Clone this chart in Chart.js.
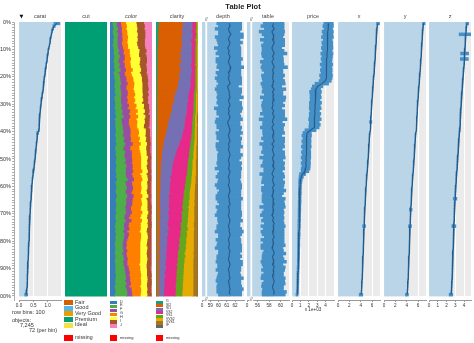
<!DOCTYPE html>
<html><head><meta charset="utf-8">
<script src="https://cdn.jsdelivr.net/npm/chart.js@4.4.1/dist/chart.umd.min.js"></script>
<style>
html,body{margin:0;padding:0;background:#fff;width:474px;height:343px;overflow:hidden;font-family:"Liberation Sans",Arial,sans-serif;}
canvas{position:absolute;}
.t{position:absolute;white-space:nowrap;color:#333;line-height:1;}
.sq{position:absolute;}
</style></head><body>
<script>
// ---------------- DATA ----------------
const columnNames = ['carat','cut','color','clarity','depth','table','price','x','y','z'];
const binCount = 100;
const yTickLabels = ['0%','10%','20%','30%','40%','50%','60%','70%','80%','90%','100%'];

const caratMean = [
1.32,1.22,1.18,1.15,1.13,1.11,1.09,1.08,1.06,1.04,
1.02,1.01,0.99,0.98,0.97,0.95,0.94,0.92,0.91,0.90,
0.88,0.87,0.86,0.85,0.84,0.83,0.81,0.80,0.78,0.77,
0.76,0.75,0.74,0.73,0.72,0.71,0.71,0.70,0.70,0.69,
0.65,0.64,0.63,0.62,0.61,0.60,0.59,0.58,0.57,0.56,
0.55,0.54,0.53,0.52,0.50,0.49,0.48,0.47,0.46,0.45,
0.44,0.44,0.43,0.42,0.42,0.41,0.40,0.40,0.39,0.39,
0.38,0.38,0.37,0.37,0.36,0.36,0.36,0.35,0.35,0.35,
0.34,0.34,0.33,0.33,0.33,0.32,0.32,0.31,0.31,0.31,
0.30,0.30,0.29,0.29,0.29,0.28,0.28,0.27,0.26,0.25];
const caratSd = [
0.10,0.04,0.02,0.01,0.01,0.01,0.01,0.01,0.01,0.01,
0.01,0.01,0.01,0.01,0.01,0.01,0.01,0.01,0.01,0.01,
0.01,0.01,0.01,0.01,0.01,0.01,0.01,0.01,0.01,0.01,
0.01,0.01,0.01,0.01,0.01,0.01,0.01,0.01,0.01,0.02,
0.03,0.01,0.01,0.01,0.01,0.01,0.01,0.01,0.01,0.01,
0.01,0.01,0.01,0.01,0.02,0.01,0.01,0.01,0.01,0.01,
0.01,0.01,0.01,0.01,0.01,0.01,0.01,0.01,0.01,0.01,
0.01,0.01,0.01,0.01,0.01,0.01,0.01,0.01,0.01,0.01,
0.01,0.01,0.01,0.01,0.01,0.01,0.01,0.01,0.01,0.01,
0.01,0.01,0.01,0.01,0.01,0.01,0.01,0.01,0.02,0.05];

const cutPremium = [
72,72,72,72,72,72,72,72,72,72, 72,72,72,72,72,72,72,72,72,72,
72,72,72,72,72,72,72,72,72,72, 72,72,72,72,72,72,72,72,72,72,
72,72,72,72,72,72,72,72,72,72, 72,72,72,72,72,72,72,72,72,72,
72,72,72,72,72,72,72,72,72,72, 72,72,72,72,72,72,72,72,72,72,
72,72,72,72,72,72,72,72,72,72, 72,72,72,72,72,72,72,72,72,72];

const colorD = [
5,6,7,5,6,8,6,7,5,7, 8,7,9,8,7,9,8,10,7,9, 9,11,10,9,11,10,12,9,10,11, 11,10,12,11,13,10,12,11,12,13,
12,11,13,12,14,12,11,13,12,14, 13,12,14,13,12,14,13,15,12,13, 14,12,13,15,13,12,14,13,12,14,
12,11,13,12,10,12,11,13,11,12, 11,10,12,11,10,12,11,10,12,11, 12,11,13,12,11,12,10,11,12,10];
const colorE = [
10,9,11,10,12,9,11,10,12,11, 12,11,13,12,11,13,12,14,12,13, 14,13,15,14,13,15,14,16,15,14, 16,15,17,16,18,16,15,17,18,17,
19,18,20,19,21,20,19,22,21,20, 23,22,24,23,25,22,24,26,23,24, 25,24,23,25,24,26,23,22,24,23,
22,21,23,20,22,21,19,20,21,19, 18,19,17,20,18,19,21,20,19,22, 22,24,23,25,24,26,25,27,28,30];
const colorF = [
10,11,9,12,10,11,12,10,11,12, 12,13,12,14,13,12,14,13,15,13, 15,14,16,15,14,16,15,14,16,15, 17,16,18,17,16,18,17,16,17,18,
17,18,16,17,18,16,17,16,18,17, 16,17,15,16,17,15,16,15,16,15, 15,16,14,15,16,14,15,14,13,14,
13,12,14,12,11,12,10,11,10,9, 9,10,8,9,10,8,9,10,9,10, 10,11,9,10,12,11,10,12,11,12];
const colorG = [
12,13,11,13,12,14,12,13,14,12, 14,15,13,15,16,14,15,16,15,16, 16,17,16,18,17,16,18,17,18,17, 18,19,18,17,19,18,20,19,18,19,
20,19,21,20,19,21,22,20,21,22, 21,22,20,21,22,20,21,20,22,21, 20,21,22,21,20,22,23,24,23,25,
26,27,25,28,29,27,30,29,31,32, 33,32,34,31,33,32,30,31,29,28, 27,26,28,25,26,24,26,23,22,20];
const colorH = [
25,24,26,23,25,22,24,23,22,24, 23,22,21,22,23,21,22,20,21,22, 21,20,19,20,21,19,18,20,19,18, 18,19,17,18,17,19,18,17,16,17,
16,17,15,16,15,17,16,15,14,16, 14,15,13,14,13,15,14,13,14,15, 14,13,15,14,13,14,13,15,16,14,
15,16,14,16,17,15,16,15,16,16, 16,15,17,16,15,16,17,16,17,15, 16,15,14,16,15,14,16,15,14,16];
const colorI = [
18,19,17,20,18,19,17,19,18,17, 17,16,18,16,17,16,15,14,16,15, 14,15,13,14,15,13,14,13,12,14, 12,13,11,12,11,12,11,13,12,10,
10,11,10,11,9,10,10,9,10,8, 9,8,10,9,8,10,9,8,9,8, 8,10,9,7,10,8,9,10,9,8,
9,10,8,10,9,10,11,9,8,9, 10,11,9,10,11,10,9,10,11,10, 9,10,11,9,10,11,10,9,10,10];
const colorJ = [
20,18,19,17,17,17,18,18,18,17, 14,16,14,13,13,15,14,13,14,12, 11,10,11,10,9,11,9,11,10,11, 8,8,7,9,6,7,7,7,9,6,
6,6,5,5,4,5,5,5,4,3, 4,4,4,4,3,4,3,3,4,4, 4,4,4,3,4,4,3,2,3,2,
3,3,3,2,2,3,3,3,3,3, 3,3,3,3,3,3,3,3,3,4, 4,3,2,3,2,2,3,3,3,2];

const clarI1 = [
6,5,4,5,3,4,5,3,4,3, 3,2,3,2,3,2,2,3,2,2, 2,2,1,2,2,1,2,1,2,1, 1,2,1,1,2,1,1,1,2,1,
1,1,1,0,1,1,1,0,1,1, 1,0,1,1,0,1,0,1,1,0, 1,0,0,1,0,1,0,0,1,0,
0,1,0,0,1,0,0,1,0,0, 0,0,1,0,0,1,0,0,0,1, 0,0,1,0,0,0,1,0,0,1];
const clarSI2 = [
56,58,57,55,59,56,54,58,57,55, 56,54,55,53,56,52,54,55,51,53, 52,50,51,48,47,44,42,40,41,38, 36,34,35,32,30,29,27,26,24,23,
21,20,18,17,16,14,13,13,12,11, 11,10,10,9,10,9,8,9,8,9, 8,9,8,7,8,7,8,7,8,7,
7,8,7,6,7,8,6,7,7,6, 7,6,7,6,5,7,6,6,5,6, 6,5,6,5,6,5,5,6,5,5];
const clarSI1 = [
24,22,25,23,24,26,23,22,24,25, 25,27,26,28,25,29,27,26,30,28, 28,29,30,31,30,33,32,34,33,35, 35,36,35,38,37,38,40,39,41,40,
40,39,40,38,37,35,34,33,31,30, 29,28,27,26,26,25,24,24,23,23, 23,22,23,21,22,22,21,22,21,20,
22,20,21,20,19,21,19,20,18,19, 19,18,17,18,17,16,17,16,15,16, 15,14,15,14,13,14,13,12,13,12];
const clarVS2 = [
8,9,7,10,8,7,9,10,8,9, 8,9,8,9,8,9,10,8,9,9, 10,11,10,11,12,12,13,14,13,14, 15,14,16,15,17,18,17,19,18,20,
21,22,23,25,26,28,29,30,32,33, 33,35,34,36,35,36,37,35,36,34, 35,34,33,35,33,32,33,31,32,31,
31,30,32,31,30,29,31,29,30,28, 29,28,29,27,28,27,26,28,27,26, 27,28,26,27,28,27,26,28,27,27];
const clarVS1 = [
3,3,4,3,3,4,4,3,3,4, 4,4,4,4,4,4,3,4,4,4, 4,4,4,4,5,5,5,5,5,6, 6,6,6,6,6,6,7,7,7,7,
7,8,8,9,9,9,10,10,10,11, 11,11,12,12,12,12,13,13,13,14, 13,14,14,14,15,14,15,15,14,16,
15,15,14,16,15,16,15,16,16,17, 16,17,16,17,16,17,17,16,17,16, 16,17,16,17,16,16,17,16,16,16];
const clarVVS2 = [
2,2,2,3,2,2,3,2,3,3, 3,3,3,3,3,3,3,3,3,3, 3,3,3,3,3,3,4,4,4,4, 4,4,4,4,4,4,4,5,4,5,
5,5,5,6,6,6,6,7,7,7, 8,8,8,8,9,9,9,10,10,10, 11,11,12,12,12,13,13,14,13,14,
14,15,15,15,16,15,17,16,17,18, 18,19,19,20,21,20,21,21,22,22, 23,23,24,24,24,25,25,25,26,26];
const clarVVS1 = [
1,1,1,1,1,1,2,2,1,1, 1,1,1,1,1,2,1,1,1,1, 1,1,1,1,1,2,2,2,2,2, 2,2,2,3,3,3,3,2,3,3,
3,3,3,3,3,4,4,4,4,4, 5,5,5,5,5,5,6,5,6,6, 6,7,7,7,7,8,7,8,8,8,
8,8,8,9,9,8,9,9,9,9, 9,9,9,9,10,9,10,10,10,10, 10,10,10,10,10,10,10,10,10,10];
const clarIF = [
0,0,0,0,0,0,0,0,0,0, 0,0,0,0,0,0,0,0,0,0, 0,0,0,0,0,0,0,0,0,0, 0,0,0,0,1,1,1,1,1,1,
1,1,1,1,1,1,1,1,1,1, 1,1,1,1,1,1,1,2,1,2, 2,2,2,2,2,2,2,2,2,2,
2,2,2,2,2,2,2,2,2,2, 2,2,2,2,2,2,2,2,2,2, 2,2,2,2,2,2,2,2,2,2];

const depthMean = [
61.3,61.4,61.2,61.3,61.5,61.3,61.2,61.4,61.3,61.1, 61.3,61.2,61.4,61.3,61.2,61.3,61.5,61.4,61.2,61.3,
61.2,61.3,61.4,61.1,61.2,61.3,61.3,61.4,61.2,61.3, 61.4,61.2,61.3,61.2,61.4,61.3,61.1,61.2,61.3,61.4,
61.3,61.2,61.3,61.4,61.2,61.3,61.2,61.3,61.4,61.3, 61.2,61.3,61.3,61.2,61.4,61.3,61.2,61.3,61.3,61.2,
61.3,61.4,61.3,61.2,61.3,61.3,61.4,61.2,61.3,61.3, 61.2,61.3,61.4,61.3,61.2,61.3,61.3,61.4,61.3,61.2,
61.3,61.3,61.2,61.4,61.3,61.3,61.2,61.3,61.4,61.3, 61.2,61.3,61.3,61.4,61.2,61.3,61.3,61.4,61.3,61.4];
const depthSd = [
1.5,1.4,1.6,1.3,1.5,1.7,1.4,1.5,1.3,1.6, 1.4,1.5,1.3,1.6,1.5,1.4,1.7,1.3,1.5,1.4,
1.6,1.5,1.4,1.3,1.6,1.5,1.4,1.6,1.3,1.5, 1.4,1.7,1.5,1.4,1.3,1.6,1.5,1.4,1.5,1.3,
1.6,1.4,1.5,1.3,1.5,1.6,1.4,1.3,1.5,1.4, 1.3,1.5,1.4,1.6,1.3,1.4,1.5,1.3,1.4,1.6,
1.5,1.3,1.4,1.5,1.6,1.4,1.3,1.5,1.4,1.5, 1.6,1.4,1.5,1.3,1.4,1.5,1.7,1.4,1.3,1.5,
1.4,1.5,1.6,1.4,1.3,1.5,1.4,1.6,1.5,1.4, 1.5,1.3,1.4,1.6,1.5,1.4,1.5,1.6,1.5,1.4];
const depthTicks = [0,59,60,61,62];

const tableMean = [
58.8,58.6,58.9,58.5,58.7,58.8,58.6,58.9,58.7,58.5, 58.7,58.9,58.6,58.8,58.5,58.7,58.9,58.6,58.8,58.7,
58.6,58.8,58.7,58.5,58.9,58.6,58.8,58.7,58.9,58.6, 58.7,58.5,58.8,58.6,58.9,58.7,58.6,58.8,58.5,58.7,
58.8,58.6,58.7,58.9,58.5,58.8,58.6,58.7,58.9,58.6, 58.7,58.8,58.6,58.9,58.7,58.5,58.8,58.6,58.7,58.9,
58.6,58.8,58.7,58.5,58.8,58.7,58.9,58.6,58.8,58.7, 58.5,58.8,58.6,58.9,58.7,58.8,58.6,58.7,58.9,58.6,
58.8,58.7,58.5,58.8,58.9,58.6,58.7,58.8,58.6,58.9, 58.7,58.8,58.6,58.7,58.9,58.8,58.6,58.7,58.9,58.8];
const tableSd = [
1.8,2.0,1.7,2.2,1.9,1.6,2.1,1.8,2.0,1.7, 1.9,2.2,1.8,1.7,2.0,1.9,2.3,1.8,1.6,2.0,
1.8,1.9,2.1,1.7,2.0,1.8,1.6,2.2,1.9,1.8, 2.0,1.7,1.9,2.1,1.8,2.4,1.7,1.9,2.0,1.8,
1.9,1.6,2.0,1.8,2.1,1.9,1.7,2.0,1.8,2.2, 1.7,1.9,2.0,1.8,1.6,2.1,1.9,1.8,2.0,1.7,
1.9,2.1,1.8,1.7,2.0,1.9,1.8,2.2,1.7,1.9, 2.0,1.8,1.9,1.7,2.1,1.8,2.0,1.9,1.7,2.0,
1.8,2.1,1.9,1.7,2.0,1.8,1.9,2.2,1.8,1.9, 2.0,1.7,1.9,2.1,1.8,2.0,1.9,1.8,2.1,2.0];
const tableTicks = [0,56,58,60];

// price in units of 1e+03
const priceMean = [
4.35,4.30,4.32,4.25,4.28,4.22,4.26,4.20,4.24,4.18, 4.21,4.15,4.19,4.12,4.16,4.10,4.14,4.08,4.11,4.05,
4.08,3.95,3.55,3.05,2.85,2.80,2.78,2.82,2.75,2.79, 2.72,2.76,2.70,2.74,2.68,2.72,2.65,2.70,2.62,2.20,
1.80,1.75,1.78,1.72,1.76,1.70,1.74,1.68,1.72,1.66, 1.70,1.64,1.68,1.62,1.55,1.25,1.10,1.02,0.98,0.96,
0.95,0.94,0.93,0.92,0.92,0.91,0.90,0.89,0.89,0.88, 0.87,0.87,0.86,0.85,0.85,0.84,0.83,0.83,0.82,0.81,
0.80,0.80,0.79,0.78,0.78,0.77,0.76,0.75,0.74,0.73, 0.72,0.71,0.70,0.70,0.69,0.68,0.67,0.66,0.64,0.60];
const priceSd = [
0.55,0.62,0.50,0.66,0.58,0.70,0.52,0.64,0.60,0.68, 0.56,0.72,0.62,0.66,0.58,0.74,0.60,0.70,0.64,0.76,
0.68,0.72,0.80,0.62,0.55,0.70,0.62,0.66,0.58,0.72, 0.64,0.70,0.56,0.68,0.62,0.74,0.58,0.66,0.60,0.65,
0.50,0.56,0.46,0.54,0.48,0.58,0.45,0.55,0.50,0.57, 0.47,0.55,0.49,0.52,0.45,0.35,0.25,0.20,0.18,0.16,
0.16,0.15,0.17,0.15,0.14,0.16,0.15,0.14,0.15,0.14, 0.14,0.13,0.15,0.13,0.14,0.13,0.12,0.14,0.13,0.12,
0.12,0.13,0.12,0.11,0.12,0.11,0.12,0.11,0.10,0.11, 0.10,0.11,0.10,0.10,0.11,0.10,0.09,0.10,0.11,0.12];
const priceTicks = [0,1,2,3,4];

const xMean = [
7.05,6.92,6.86,6.82,6.78,6.75,6.72,6.70,6.67,6.64, 6.60,6.58,6.55,6.52,6.49,6.45,6.42,6.38,6.35,6.31,
6.26,6.22,6.19,6.16,6.12,6.09,6.05,6.02,5.98,5.95, 5.92,5.89,5.86,5.83,5.80,5.77,5.76,5.74,5.72,5.70,
5.60,5.56,5.52,5.49,5.46,5.43,5.40,5.37,5.34,5.31, 5.28,5.25,5.21,5.18,5.13,5.09,5.06,5.02,4.99,4.96,
4.92,4.90,4.87,4.84,4.82,4.79,4.76,4.74,4.71,4.69, 4.67,4.65,4.63,4.61,4.59,4.57,4.55,4.54,4.52,4.51,
4.49,4.47,4.45,4.43,4.42,4.40,4.38,4.36,4.34,4.33, 4.31,4.29,4.26,4.24,4.22,4.20,4.18,4.15,4.11,4.05];
const xSd = [
0.25,0.05,0.04,0.04,0.04,0.04,0.04,0.04,0.04,0.04, 0.04,0.04,0.04,0.04,0.04,0.04,0.04,0.04,0.04,0.04,
0.04,0.04,0.04,0.04,0.04,0.04,0.04,0.04,0.04,0.04, 0.04,0.04,0.04,0.04,0.04,0.04,0.20,0.04,0.04,0.04,
0.05,0.04,0.04,0.04,0.04,0.04,0.04,0.04,0.04,0.04, 0.04,0.04,0.04,0.04,0.04,0.04,0.04,0.04,0.04,0.04,
0.04,0.04,0.04,0.04,0.04,0.04,0.04,0.04,0.04,0.04, 0.04,0.04,0.04,0.04,0.25,0.04,0.04,0.04,0.04,0.04,
0.04,0.04,0.04,0.04,0.04,0.04,0.04,0.04,0.04,0.04, 0.04,0.04,0.04,0.04,0.04,0.04,0.04,0.04,0.05,0.30];
const yMean = [
7.02,6.90,6.85,6.80,6.77,6.74,6.71,6.68,6.66,6.62, 6.59,6.56,6.54,6.50,6.47,6.44,6.40,6.37,6.33,6.30,
6.25,6.21,6.18,6.14,6.11,6.07,6.04,6.00,5.97,5.94, 5.91,5.88,5.85,5.82,5.79,5.77,5.75,5.73,5.71,5.69,
5.59,5.55,5.52,5.48,5.45,5.42,5.39,5.36,5.33,5.30, 5.27,5.24,5.21,5.17,5.13,5.09,5.05,5.02,4.99,4.95,
4.92,4.89,4.87,4.84,4.81,4.79,4.76,4.73,4.71,4.69, 4.67,4.64,4.62,4.60,4.58,4.57,4.55,4.53,4.52,4.50,
4.48,4.46,4.45,4.43,4.41,4.39,4.37,4.36,4.34,4.32, 4.30,4.28,4.26,4.24,4.22,4.19,4.17,4.14,4.10,4.04];
const ySd = [
0.20,0.05,0.04,0.04,0.04,0.04,0.04,0.04,0.04,0.04, 0.04,0.04,0.04,0.04,0.04,0.04,0.04,0.04,0.04,0.04,
0.04,0.04,0.04,0.04,0.04,0.04,0.04,0.04,0.04,0.04, 0.04,0.04,0.04,0.04,0.04,0.04,0.04,0.04,0.04,0.04,
0.05,0.04,0.04,0.04,0.04,0.04,0.04,0.04,0.04,0.04, 0.04,0.04,0.04,0.04,0.04,0.04,0.04,0.04,0.04,0.04,
0.04,0.04,0.04,0.04,0.04,0.04,0.04,0.04,0.22,0.04, 0.04,0.04,0.04,0.04,0.25,0.04,0.04,0.04,0.04,0.04,
0.04,0.04,0.04,0.04,0.04,0.04,0.04,0.04,0.04,0.04, 0.04,0.04,0.04,0.04,0.04,0.04,0.04,0.04,0.05,0.25];
const zMean = [
4.37,4.29,4.25,4.23,4.20,4.18,4.16,4.15,4.13,4.11, 4.09,4.07,4.06,4.04,4.02,4.00,3.98,3.95,3.93,3.91,
3.88,3.85,3.83,3.81,3.79,3.77,3.74,3.72,3.70,3.68, 3.66,3.64,3.62,3.60,3.59,3.57,3.56,3.55,3.54,3.52,
3.46,3.44,3.42,3.40,3.38,3.36,3.34,3.32,3.30,3.28, 3.26,3.24,3.22,3.20,3.17,3.15,3.13,3.11,3.09,3.07,
3.05,3.03,3.01,2.99,2.98,2.96,2.94,2.93,2.91,2.90, 2.89,2.88,2.86,2.85,2.84,2.83,2.82,2.81,2.80,2.79,
2.78,2.77,2.76,2.74,2.73,2.72,2.71,2.70,2.69,2.68, 2.67,2.66,2.64,2.63,2.62,2.60,2.59,2.57,2.55,2.51];
const zSd = [
0.15,0.04,0.04,0.04,0.75,0.04,0.04,0.04,0.04,0.04, 0.04,0.45,0.04,0.45,0.04,0.04,0.04,0.04,0.04,0.04,
0.04,0.04,0.04,0.04,0.04,0.04,0.04,0.04,0.04,0.04, 0.04,0.04,0.04,0.04,0.04,0.04,0.04,0.04,0.04,0.04,
0.04,0.04,0.04,0.04,0.04,0.04,0.04,0.04,0.04,0.04, 0.04,0.04,0.04,0.04,0.04,0.04,0.04,0.04,0.04,0.04,
0.04,0.04,0.04,0.04,0.20,0.04,0.04,0.04,0.04,0.04, 0.04,0.04,0.04,0.04,0.22,0.04,0.04,0.04,0.04,0.04,
0.04,0.04,0.04,0.04,0.04,0.04,0.04,0.04,0.04,0.04, 0.04,0.04,0.04,0.04,0.04,0.04,0.04,0.04,0.05,0.20];
const xyTicks = [0,2,4,6];
const zTicks = [0,1,2,3,4];
const caratTicks = [0,0.5,1.0];

const cutLevels = ['Fair','Good','Very Good','Premium','Ideal'];
const colorLevels = ['D','E','F','G','H','I','J'];
const clarityLevels = ['I1','SI2','SI1','VS2','VS1','VVS2','VVS1','IF'];

// ---------------- STYLE / LAYOUT ----------------
const FONT = '"Liberation Sans", Arial, sans-serif';
const cutColors = ['#D55E00','#56B4E9','#E69F00','#009E73','#F0E442'];
const colorColors = ['#377EB8','#4DAF4A','#984EA3','#FF7F00','#FFFF33','#A65628','#F781BF'];
const clarityColors = ['#1B9E77','#D95F02','#7570B3','#E7298A','#66A61E','#E6AB02','#A6761D','#666666'];
const LIGHT = '#BAD5E7';
const BAND = '#4590C7';
const LINE = '#285A88';
const GRAY = '#EBEBEB';
const panelLeft = [19,65,110,156,202,247,292,338,384,429];
const PW = 42, PAD = 8, CTOP = 14, CH = 300, AXH = 14;
const Y_MIN = -0.5, Y_MAX = 100.96;
const bins = Array.from({length: binCount}, (_, i) => i);

function mkCanvas(left, top, w, h){
  const c = document.createElement('canvas');
  c.width = w; c.height = h;
  c.style.left = left + 'px'; c.style.top = top + 'px';
  c.style.width = w + 'px'; c.style.height = h + 'px';
  document.body.appendChild(c);
  return c;
}
function txt(s, x, y, size, o){
  o = o || {};
  const d = document.createElement('div');
  d.className = 't';
  d.textContent = s;
  d.style.fontSize = size + 'px';
  d.style.left = x + 'px'; d.style.top = y + 'px';
  const ax = o.anchor === 'center' ? '-50%' : (o.anchor === 'right' ? '-100%' : '0');
  d.style.transform = 'translate(' + ax + ',-50%)';
  if (o.bold) d.style.fontWeight = 'bold';
  if (o.color) d.style.color = o.color;
  if (o.family) d.style.fontFamily = o.family;
  document.body.appendChild(d);
}
function sq(x, y, w, h, col){
  const d = document.createElement('div');
  d.className = 'sq';
  d.style.left = x + 'px'; d.style.top = y + 'px';
  d.style.width = w + 'px'; d.style.height = h + 'px';
  d.style.background = col;
  document.body.appendChild(d);
}
const yIndexScale = (stacked) => ({type:'linear', min:Y_MIN, max:Y_MAX, reverse:true, display:false,
  offset:false, grid:{offset:false}, stacked: !!stacked});
const baseOpts = {responsive:false, animation:false, devicePixelRatio:1, events:[],
  plugins:{legend:{display:false}, tooltip:{enabled:false}}};

function bgPlugin(){
  return {id:'panelbg', beforeDraw(chart){
    const {ctx, chartArea:a, scales:{y}} = chart;
    const t = y.getPixelForValue(-0.5), b = y.getPixelForValue(binCount - 0.5);
    ctx.save(); ctx.fillStyle = GRAY; ctx.fillRect(a.left, t, a.right - a.left, b - t); ctx.restore();
  }};
}
function breakPlugin(u){
  return {id:'brk', afterDatasetsDraw(chart){
    const {ctx, scales:{x, y}} = chart;
    const px = x.getPixelForValue(u);
    const t = y.getPixelForValue(-0.5), b = y.getPixelForValue(binCount - 0.5);
    ctx.save();
    ctx.fillStyle = '#fff'; ctx.fillRect(px - 0.9, t, 1.8, b - t);
    ctx.fillRect(px - 1.8, x.top - 1.5, 3.6, 3);
    ctx.fillStyle = '#555'; ctx.font = '5px ' + FONT; ctx.textAlign = 'center'; ctx.textBaseline = 'middle';
    ctx.fillText('//', px, t - 2.6);
    ctx.fillText('//', px, x.top - 0.5);
    ctx.restore();
  }};
}

// ---------------- Y AXIS ----------------
(function(){
  const c = mkCanvas(0, CTOP, 19, CH);
  new Chart(c, {type:'bar', data:{datasets:[]}, options:Object.assign({}, baseOpts, {
    layout:{padding:{top:8, bottom:AXH, left:0, right:0}},
    scales:{
      x:{display:false},
      y:{type:'linear', min:Y_MIN, max:Y_MAX, reverse:true, position:'left', offset:false,
        afterBuildTicks:s => { s.ticks = Array.from({length: binCount + 1}, (_, k) => ({value: k - 0.5})); },
        afterFit:s => { s.width = 14; },
        ticks:{autoSkip:false, padding:1, color:'#333', font:{size:5.5, family:FONT},
          callback:(v, i) => (i % 10 === 0 ? yTickLabels[i / 10] : '')},
        grid:{drawOnChartArea:false, tickLength:2, tickColor:'#777', tickWidth:0.6},
        border:{display:true, color:'#777', width:0.6}}
    }})});
})();

// ---------------- NUMERIC COLUMNS ----------------
function numChart(col, cfg){
  const c = mkCanvas(panelLeft[col] - PAD, CTOP, PW + 2 * PAD, CH);
  const mean = cfg.mean, sd = cfg.sd;
  const datasets = [
    {type:'line', data: bins.map(i => ({x: mean[i], y: i})), borderColor: LINE, borderWidth: 1.1,
      pointRadius: 0, fill: false, tension: 0, order: 0},
    {type:'bar', data: bins.map(i => ({x: [mean[i] - sd[i], mean[i] + sd[i]], y: i})), backgroundColor: BAND,
      grouped:false, barPercentage:1, categoryPercentage:1, borderWidth:0, inflateAmount:0.4, order: 1},
    {type:'bar', data: bins.map(i => ({x: [cfg.min, mean[i]], y: i})), backgroundColor: LIGHT,
      grouped:false, barPercentage:1, categoryPercentage:1, borderWidth:0, inflateAmount:0.4, order: 2}
  ];
  const plugins = [bgPlugin()];
  if (cfg.breakU !== undefined) plugins.push(breakPlugin(cfg.breakU));
  new Chart(c, {type:'bar', data:{datasets}, plugins, options:Object.assign({}, baseOpts, {
    indexAxis:'y',
    layout:{padding:{top:8, bottom:0, left:PAD, right:PAD}},
    scales:{
      y: yIndexScale(false),
      x: {type:'linear', min:cfg.min, max:cfg.max, position:'bottom',
        afterBuildTicks:s => { s.ticks = cfg.tickPos.map(v => ({value: v})); },
        afterFit:s => { s.height = AXH; },
        ticks:{autoSkip:false, maxRotation:0, minRotation:0, padding:1, color:'#333',
          font:{size:4.6, family:FONT}, callback:(v, i) => String(cfg.tickLab[i])},
        grid:{color:'#FFFFFF', lineWidth:1, tickLength:2, tickColor:'#555', tickWidth:0.6},
        border:{display:true, color:'#555', width:0.6},
        title: cfg.title ? {display:true, text:cfg.title, color:'#333', font:{size:4.6, family:FONT}, padding:{top:0, bottom:2}} : {display:false}}
    }})});
}

numChart(0, {mean:caratMean, sd:caratSd, min:0, max:1.463, tickPos:caratTicks,
  tickLab: caratTicks.map(v => v.toFixed(1))});
numChart(4, {mean:depthMean, sd:depthSd, min:58.0, max:63.09, tickPos:[58.0, 59, 60, 61, 62],
  tickLab: depthTicks, breakU:58.52});
numChart(5, {mean:tableMean, sd:tableSd, min:54.17, max:61.47, tickPos:[54.17, 56, 58, 60],
  tickLab: tableTicks, breakU:54.92});
numChart(6, {mean:priceMean, sd:priceSd, min:0, max:5.0, tickPos:priceTicks, tickLab:priceTicks, title:'x 1e+03'});
numChart(7, {mean:xMean, sd:xSd, min:0, max:7.4, tickPos:xyTicks, tickLab:xyTicks});
numChart(8, {mean:yMean, sd:ySd, min:0, max:7.4, tickPos:xyTicks, tickLab:xyTicks});
numChart(9, {mean:zMean, sd:zSd, min:0, max:4.8, tickPos:zTicks, tickLab:zTicks});

// ---------------- CATEGORICAL COLUMNS ----------------
function catChart(col, series, colors){
  const c = mkCanvas(panelLeft[col] - PAD, CTOP, PW + 2 * PAD, CH);
  const totals = bins.map(i => series.reduce((s, a) => s + a[i], 0));
  const datasets = series.map((a, k) => ({
    data: bins.map(i => ({x: a[i] / totals[i], y: i})), backgroundColor: colors[k],
    barPercentage:1, categoryPercentage:1, borderWidth:0, inflateAmount:0.45}));
  new Chart(c, {type:'bar', data:{datasets}, options:Object.assign({}, baseOpts, {
    indexAxis:'y',
    layout:{padding:{top:8, bottom:AXH, left:PAD, right:PAD}},
    scales:{ y: yIndexScale(true), x:{type:'linear', min:0, max:1, display:false, stacked:true} }
  })});
}
catChart(1, [cutPremium], [cutColors[3]]);
catChart(2, [colorD, colorE, colorF, colorG, colorH, colorI, colorJ], colorColors);
catChart(3, [clarI1, clarSI2, clarSI1, clarVS2, clarVS1, clarVVS2, clarVVS1, clarIF], clarityColors);

// ---------------- TEXT ----------------
txt('Table Plot', 243, 7, 7.5, {anchor:'center', bold:true, color:'#222'});
columnNames.forEach((n, i) => txt(n, panelLeft[i] + PW / 2, 17, 5.5, {anchor:'center', color:'#444'}));
txt('\u25BC', 21.5, 16.3, 5, {anchor:'center', color:'#111', family:'"DejaVu Sans"'});

txt('row bins: 100', 12, 312.7, 5.5);
txt('objects:', 12, 321, 5.5);
txt('7,245', 20, 325.6, 5.5);
txt('72 (per bin)', 29, 331, 5.5);

// legends
cutLevels.forEach((l, k) => { sq(64.3, 300.3 + k * 5.55, 8.4, 5.1, cutColors[k]); txt(l, 75, 302.9 + k * 5.55, 5.5); });
colorLevels.forEach((l, k) => { sq(110, 300.7 + k * 3.95, 7.3, 3.6, colorColors[k]); txt(l, 120, 302.5 + k * 3.95, 3.8); });
clarityLevels.forEach((l, k) => { sq(156, 300.7 + k * 3.45, 7.3, 3.15, clarityColors[k]); txt(l, 166, 302.3 + k * 3.45, 3.4); });
sq(64.3, 335.3, 8.4, 5.6, '#FF0000'); txt('missing', 75, 338.2, 5.2);
sq(110, 335.3, 7.3, 5.6, '#FF0000'); txt('missing', 120, 338.4, 4.0);
sq(156, 335.3, 7.3, 5.6, '#FF0000'); txt('missing', 166, 338.4, 4.0);
</script>
</body></html>
